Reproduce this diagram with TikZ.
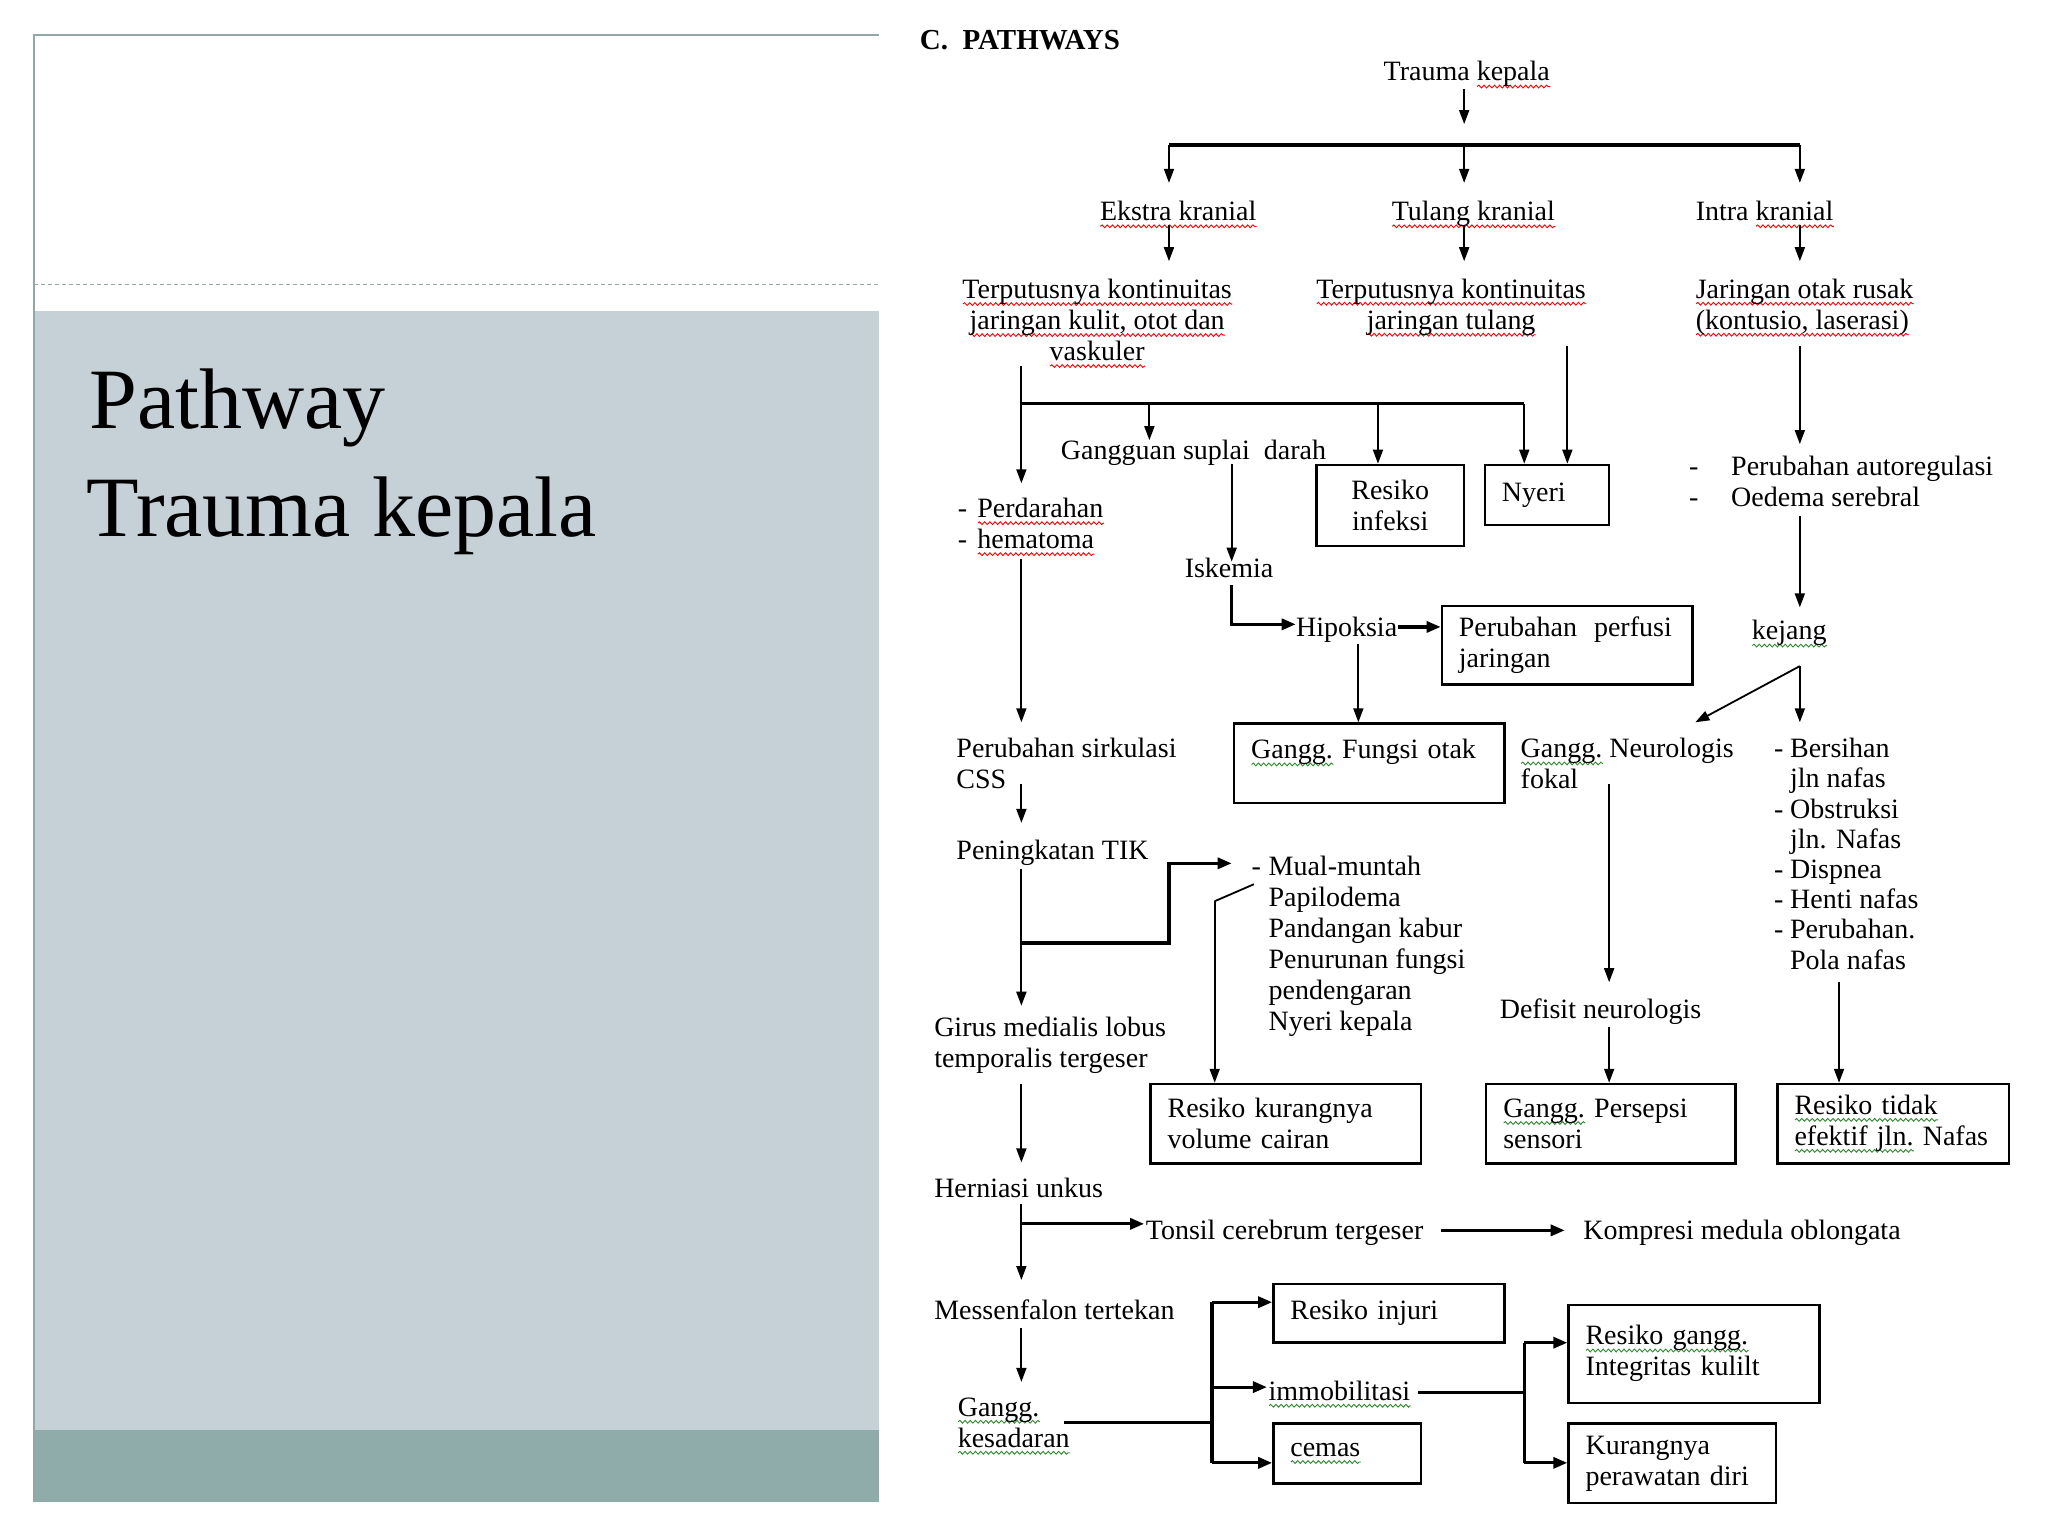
\documentclass[tikz,border=0pt]{standalone}
\usepackage{fontspec}
\setmainfont{Liberation Serif}
\usetikzlibrary{arrows.meta,decorations.pathmorphing}
\definecolor{panelgrey}{HTML}{C5D1D6}
\definecolor{paneldark}{HTML}{8FACAB}
\definecolor{borderc}{HTML}{8FA9A8}
\definecolor{wavegreen}{HTML}{2E8B2E}
\newsavebox\wvbox
\newcommand\wavy[2]{\mbox{\sbox\wvbox{#2}\rlap{\tikz[baseline=0pt,x=1pt,y=1pt]\draw[#1,line width=0.45pt,decorate,decoration={snake,amplitude=0.7pt,segment length=2.6pt}] (0,-2.8) -- (\the\wd\wvbox,-2.8);}\usebox\wvbox}}
\newcommand\rw[1]{\wavy{red}{#1}}
\newcommand\gw[1]{\wavy{wavegreen}{#1}}
\newcommand\dsh[1]{\makebox[#1][l]{-}}
\begin{document}
\begin{tikzpicture}[x=0.6531pt,y=-0.6531pt,
  tx/.style={inner sep=0pt, yshift=-1.3pt, font=\fontsize{14}{15.5}\selectfont},
  bx/.style={draw, line width=1.2pt, inner xsep=8.5pt, inner ysep=0pt, align=left,
             font=\fontsize{14}{15.5}\selectfont, anchor=north west},
  arr/.style={line width=0.9pt, -{Triangle[length=7pt,width=5pt]}},
  ln/.style={line width=0.9pt},
  bln/.style={line width=1.6pt},
  barr/.style={line width=1.6pt, -{Triangle[length=7pt,width=5.5pt]}}]
\useasboundingbox (0,0) rectangle (1568,1176);
% ---------- left panel ----------
\fill[white] (0,0) rectangle (1568,1176);
\fill[panelgrey] (26,238) rectangle (673,1095);
\fill[paneldark] (26,1095) rectangle (673,1150);
\draw[borderc, line width=0.8pt] (26,1150) -- (26,27) -- (673,27);
\draw[borderc, line width=0.5pt, dash pattern=on 2pt off 1.5pt] (26,218) -- (673,218);
\node[anchor=base west, inner sep=0pt, font=\fontsize{43}{50}\selectfont] (t1) at (68,328) {Pathway};
\node[anchor=base west, inner sep=0pt, font=\fontsize{43}{50}\selectfont] (t2) at (66,411) {Trauma kepala};
% ---------- diagram text (multi-line nodes: base = last line) ----------
\node[tx, anchor=base west, font=\fontsize{14.5}{16}\selectfont\bfseries] (title) at (704,36) {C.\ \ PATHWAYS};
\node[tx, anchor=base] (tk) at (1123,60) {Trauma \rw{kepala}};
\node[tx, anchor=base] (ek) at (902,167) {\rw{Ekstra kranial}};
\node[tx, anchor=base] (tu) at (1128,167) {\rw{Tulang kranial}};
\node[tx, anchor=base] (in) at (1351,167) {Intra \rw{kranial}};
\node[tx, anchor=base, align=center] (tp1) at (840,274) {\rw{Terputusnya kontinuitas}\\\rw{jaringan kulit, otot dan}\\\rw{vaskuler}};
\node[tx, anchor=base, align=center] (tp2) at (1111,250) {\rw{Terputusnya kontinuitas}\\\rw{jaringan tulang}};
\node[tx, anchor=base west, align=left] (jor) at (1298,250) {\rw{Jaringan otak rusak}\\\rw{(kontusio, laserasi)}};
\node[tx, anchor=base west] (gsd) at (812,350) {Gangguan suplai\ \ darah};
\node[bx, align=center, text width=56.8pt, minimum height=40.5pt] (ri) at (1007,355) {Resiko\\infeksi};
\node[bx, text width=45pt, minimum height=30pt] (ny) at (1136,355) {Nyeri};
\node[tx, anchor=base west, align=left] (aut) at (1293,386) {\dsh{21pt}Perubahan autoregulasi\\\dsh{21pt}Oedema serebral};
\node[tx, anchor=base west, align=left] (per) at (733,418) {\dsh{9.8pt}\rw{Perdarahan}\\\dsh{9.8pt}\rw{hematoma}};
\node[tx, anchor=base] (isk) at (941,440) {Iskemia};
\node[tx, anchor=base west] (hip) at (992,485) {Hipoksia};
\node[bx, text width=108.4pt, minimum height=39.2pt] (ppj) at (1103,463) {Perubahan\hspace{8.5pt}perfusi\\jaringan};
\node[bx, text width=118.2pt, minimum height=39.8pt] (gfo) at (944,553) {\gw{Gangg.} Fungsi otak\\[-6pt]\strut};
\node[tx, anchor=base west] (kej) at (1341,488) {\gw{kejang}};
\node[tx, anchor=base west, align=left] (gnf) at (1164,602) {\gw{Gangg.} Neurologis\\fokal};
\node[tx, anchor=base west, align=left, font=\fontsize{14}{15.1}\selectfont] (bers) at (1358,740)
  {\dsh{8pt}Bersihan\\\hspace*{8pt}jln nafas\\\dsh{8pt}Obstruksi\\\hspace*{8pt}jln. Nafas\\\dsh{8pt}Dispnea\\\dsh{8pt}Henti nafas\\\dsh{8pt}Perubahan.\\\hspace*{8pt}Pola nafas};
\node[tx, anchor=base west, align=left] (psc) at (732,602) {Perubahan sirkulasi\\CSS};
\node[tx, anchor=base west] (tik) at (732,656) {Peningkatan TIK};
\node[tx, anchor=base west, align=left] (mual) at (958,787)
  {\dsh{8.5pt}Mual-muntah\\\hspace*{8.5pt}Papilodema\\\hspace*{8.5pt}Pandangan kabur\\\hspace*{8.5pt}Penurunan fungsi\\\hspace*{8.5pt}pendengaran\\\hspace*{8.5pt}Nyeri kepala};
\node[bx, text width=118.2pt, minimum height=39.8pt] (rkv) at (880,829) {Resiko kurangnya\\volume cairan};
\node[tx, anchor=base west] (dn) at (1148,778) {Defisit neurologis};
\node[bx, text width=107.7pt, minimum height=39.8pt] (gps) at (1137,829) {\gw{Gangg.} Persepsi\\sensori};
\node[bx, text width=98.6pt, minimum height=39.8pt] (rte) at (1360,829) {\gw{Resiko tidak}\\\mbox{\gw{efektif jln.} Nafas}};
\node[tx, anchor=base west, align=left] (gir) at (715,815) {Girus medialis lobus\\temporalis tergeser};
\node[tx, anchor=base west] (hu) at (715,915) {Herniasi unkus};
\node[tx, anchor=base west] (tcs) at (877,947) {Tonsil cerebrum tergeser};
\node[tx, anchor=base west] (kmo) at (1212,947) {Kompresi medula oblongata};
\node[tx, anchor=base west] (mt) at (715,1008) {Messenfalon tertekan};
\node[tx, anchor=base west, align=left] (gk) at (733,1106) {\gw{Gangg.}\\\gw{kesadaran}};
\node[bx, text width=98.6pt, minimum height=29.4pt] (rinj) at (974,982) {Resiko injuri};
\node[tx, anchor=base west] (imm) at (971,1070) {\gw{immobilitasi}};
\node[bx, text width=56.8pt, minimum height=30pt] (cem) at (974,1089) {\gw{cemas}};
\node[bx, text width=108.4pt, minimum height=49pt] (rgi) at (1200,998) {\gw{Resiko gangg.}\\Integritas kulilt};
\node[bx, text width=86.8pt, minimum height=39.8pt] (kpd) at (1200,1089) {Kurangnya\\perawatan diri};
% ---------- connectors ----------
\coordinate (jtop) at (1121,111);
\draw[arr] (tk.south -| jtop) -- (1121,95);
\draw[bln] (895,111) -- (1378,111);
\foreach \x in {895,1121,1378} \draw[arr] (\x,111) -- (\x,140);
\draw[arr] (895,172) -- (895,200);
\draw[arr] (1121,172) -- (1121,200);
\draw[arr] (1378,172) -- (1378,200);
\coordinate (jl) at (782,309);
\draw[arr] (782,280) -- (782,370);
\draw[bln] (jl) -- (1167,309);
\draw[arr] (880,309) -- (880,337);
\draw[arr] (1055,309) -- (ri.north -| 1055,0);
\draw[arr] (1167,309) -- (ny.north -| 1167,0);
\draw[arr] (1200,265) -- (ny.north -| 1200,0);
\draw[arr] (1378,265) -- (1378,340);
\draw[arr] (943,355) -- (943,430);
\draw[barr] (943,448) -- (943,478) -- (hip.west |- 0,478);
\draw[barr] (hip.east |- 0,480) -- (ppj.west |- 0,480);
\draw[arr] (1040,493) -- (gfo.north -| 1040,0);
\draw[arr] (1378,395) -- (1378,465);
\coordinate (jk) at (1378,510);
\draw[arr] (jk) -- (1298,553);
\draw[arr] (jk) -- (1378,553);
\draw[arr] (782,428) -- (782,553);
\draw[arr] (782,600) -- (782,630);
\draw[arr] (782,665) -- (782,770);
\draw[barr] (782,722) -- (895,722) -- (895,661) -- (943,661);
\draw[ln] (960,677) -- (930,690);
\draw[arr] (930,690) -- (rkv.north -| 930,0);
\draw[arr] (1232,600) -- (1232,752);
\draw[arr] (1232,786) -- (gps.north -| 1232,0);
\draw[arr] (1408,752) -- (rte.north -| 1408,0);
\draw[arr] (782,830) -- (782,890);
\draw[arr] (782,922) -- (782,980);
\draw[barr] (782,937) -- (876,937);
\draw[barr] (1103,942) -- (1198,942);
\draw[arr] (782,1017) -- (782,1058);
\coordinate (jb) at (928,1089);
\draw[bln] (815,1089) -- (jb);
\draw[bln] (928,997) -- (928,1120);
\draw[barr] (928,997) -- (rinj.west |- 0,997);
\draw[barr] (928,1062) -- (970,1062);
\draw[barr] (928,1120) -- (cem.west |- 0,1120);
\draw[bln] (1086,1066) -- (1167,1066);
\draw[bln] (1167,1028) -- (1167,1120);
\draw[barr] (1167,1028) -- (rgi.west |- 0,1028);
\draw[barr] (1167,1120) -- (kpd.west |- 0,1120);
\end{tikzpicture}
\end{document}
